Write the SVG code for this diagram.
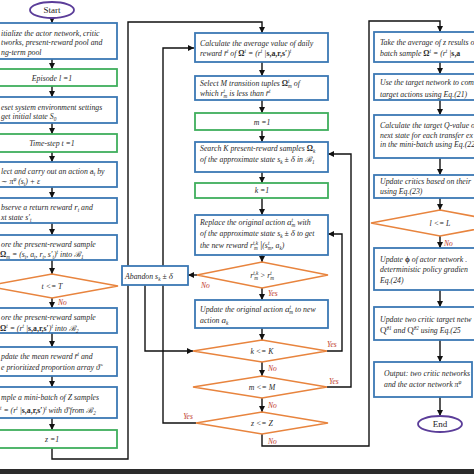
<svg xmlns="http://www.w3.org/2000/svg" width="474" height="474" viewBox="0 0 474 474">
<defs>
<style>
.t{font-family:"Liberation Serif","DejaVu Serif",serif;font-style:italic;font-size:7.8px;fill:#2a2a2a}
.s{font-size:5.2px}
.b{font-weight:bold;font-style:normal}
.u{font-style:normal}
.m{text-anchor:middle}
.lb{font-family:"Liberation Serif","DejaVu Serif",serif;font-style:italic;font-size:7.5px;fill:#c0392b}
.ov{font-family:"Liberation Serif","DejaVu Serif",serif;font-size:9px;fill:#222;text-anchor:middle}
.box{fill:#fff;stroke:#3b78b4;stroke-width:1.8}
.g{fill:#fff;stroke:#3fae5c;stroke-width:1.8}
.d{fill:#fff;stroke:#e8843e;stroke-width:1.6}
.o{fill:#fff;stroke:#5b3d99;stroke-width:1.8}
.c2{fill:none;stroke:#111;stroke-width:1.4;marker-end:url(#ah)}
</style>
<marker id="ah" markerWidth="6" markerHeight="6" refX="6" refY="3" orient="auto" markerUnits="userSpaceOnUse"><path d="M0,0 L6,3 L0,6 z" fill="#111"/></marker>
</defs>
<rect width="474" height="474" fill="#fff"/>
<g id="connectors">
<path class="c2" d="M52,18 V23"/>
<path class="c2" d="M52,59 V69"/>
<path class="c2" d="M52,86 V97"/>
<path class="c2" d="M52,123 V134"/>
<path class="c2" d="M52,152 V162"/>
<path class="c2" d="M52,187 V198"/>
<path class="c2" d="M52,223 V235"/>
<path class="c2" d="M52,260 V274"/>
<path class="c2" d="M52,298 V308"/>
<path class="c2" d="M52,333 V347"/>
<path class="c2" d="M52,376 V387"/>
<path class="c2" d="M52,418 V430"/>
<path class="c2" d="M52,448 V459 H128 V22 H262 V33"/>
<path class="c2" d="M262,62 V76"/>
<path class="c2" d="M262,100 V113"/>
<path class="c2" d="M262,130 V142"/>
<path class="c2" d="M262,172 V183"/>
<path class="c2" d="M262,198 V215"/>
<path class="c2" d="M262,255 V262"/>
<path class="c2" d="M197,275 H188"/>
<path class="c2" d="M262,288 V300"/>
<path class="c2" d="M262,328 V340"/>
<path class="c2" d="M145,285 V351 H193"/>
<path class="c2" d="M327,351 H342 V234 H328"/>
<path class="c2" d="M262,362 V376"/>
<path class="c2" d="M327,387 H351 V154 H328"/>
<path class="c2" d="M262,398 V412"/>
<path class="c2" d="M196,423 H163 V48 H194"/>
<path class="c2" d="M262,434 V446 H369 V21 H440 V32"/>
<path class="c2" d="M440,62 V74"/>
<path class="c2" d="M440,100 V115"/>
<path class="c2" d="M440,158 V175"/>
<path class="c2" d="M440,198 V210"/>
<path class="c2" d="M440,235 V248"/>
<path class="c2" d="M440,290 V307"/>
<path class="c2" d="M440,340 V362"/>
<path class="c2" d="M440,397 V416"/>
</g>
<g id="start"><ellipse class="o" cx="52" cy="10" rx="22" ry="8"/><text class="ov" x="52" y="13">Start</text></g>
<g id="init"><rect class="box" x="-14" y="23" width="131" height="36"/>
<text class="t" x="1" y="35.5">itialize the actor network, critic</text>
<text class="t" x="1" y="45">tworks, present-reward pool and</text>
<text class="t" x="1" y="54.5">ng-term pool</text></g>
<g id="episode"><rect class="g" x="-14" y="69" width="131" height="17"/><text class="t m" x="52" y="80.5">Episode l =1</text></g>
<g id="reset"><rect class="box" x="-14" y="97" width="131" height="26"/>
<text class="t" x="1" y="109.5">eset system environment settings</text>
<text class="t" x="1" y="119">get initial state S<tspan class="s" dy="2">0</tspan></text></g>
<g id="timestep"><rect class="g" x="-14" y="134" width="131" height="18"/><text class="t m" x="52" y="145.5">Time-step t =1</text></g>
<g id="select"><rect class="box" x="-14" y="162" width="131" height="25"/>
<text class="t" x="1" y="173.5">lect and carry out an action <tspan class="u" font-size="9">a</tspan><tspan class="s" dy="2">t</tspan><tspan dy="-2"> by</tspan></text>
<text class="t" x="1" y="183.5">∼ π<tspan class="s" dy="-3">φ</tspan><tspan dy="3"> (s</tspan><tspan class="s" dy="2">t</tspan><tspan dy="-2">) + ε</tspan></text></g>
<g id="observe"><rect class="box" x="-14" y="198" width="131" height="25"/>
<text class="t" x="1" y="210">bserve a return reward  <tspan font-size="9">r</tspan><tspan class="s" dy="2">t</tspan><tspan dy="-2">  and</tspan></text>
<text class="t" x="1" y="220">xt state s′<tspan class="s" dy="2">t</tspan></text></g>
<g id="store1"><rect class="box" x="-14" y="235" width="131" height="25"/>
<text class="t" x="1" y="247">ore the present-reward sample</text>
<text class="t" x="0" y="257"><tspan class="b">Ω</tspan><tspan class="s" dy="2">m</tspan><tspan dy="-2"> = (s</tspan><tspan class="s" dy="2">t</tspan><tspan dy="-2">, a</tspan><tspan class="s" dy="2">t</tspan><tspan dy="-2">, r</tspan><tspan class="s" dy="2">t</tspan><tspan dy="-2">, s′</tspan><tspan class="s" dy="2">t</tspan><tspan dy="-2">)</tspan><tspan class="s" dy="-3">t</tspan><tspan dy="3"> into ℬ</tspan><tspan class="s" dy="2">1</tspan></text></g>
<g id="tT"><polygon class="d" points="-14,286 52,274 118,286 52,298"/><text class="t m" x="52" y="289">t &lt;= T</text></g>
<g id="store2"><rect class="box" x="-14" y="308" width="131" height="25"/>
<text class="t" x="1" y="320">ore the present-reward sample</text>
<text class="t" x="0" y="330.5"><tspan class="b">Ω</tspan><tspan class="s" dy="-3">t</tspan><tspan dy="3"> = (r</tspan><tspan class="s" dy="-3">t</tspan><tspan dy="3"> |</tspan><tspan class="b">s,a,r,s′</tspan><tspan>)</tspan><tspan class="s" dy="-3">t</tspan><tspan dy="3"> into ℬ</tspan><tspan class="s" dy="2">2</tspan></text></g>
<g id="update-mean"><rect class="box" x="-14" y="347" width="131" height="29"/>
<text class="t" x="1" y="359">pdate the mean reward  r̄<tspan class="s" dy="-3">t</tspan><tspan dy="3"> and</tspan></text>
<text class="t" x="1" y="369.5">e prioritized proportion array  ϑ̃</text></g>
<g id="sample"><rect class="box" x="-14" y="387" width="131" height="31"/>
<text class="t" x="1" y="400">mple a mini-batch of Z samples</text>
<text class="t" x="0" y="412.5"><tspan class="s" dy="-3">t</tspan><tspan dy="3"> = (r</tspan><tspan class="s" dy="-3">t</tspan><tspan dy="3"> |</tspan><tspan class="b">s,a,r,s′</tspan><tspan>)</tspan><tspan class="s" dy="-3">t</tspan><tspan dy="3"> with ϑ̃  from ℬ</tspan><tspan class="s" dy="2">2</tspan></text></g>
<g id="z1"><rect class="g" x="-14" y="430" width="131" height="18"/><text class="t m" x="52" y="441.5">z =1</text></g>
<g id="calc-avg"><rect class="box" x="195" y="33" width="133" height="29"/>
<text class="t" x="200" y="45.5">Calculate the average value of daily</text>
<text class="t" x="200" y="56">reward  r̄<tspan class="s" dy="-3">t</tspan><tspan dy="3"> of  </tspan><tspan class="b">Ω</tspan><tspan class="s" dy="-3">t</tspan><tspan dy="3"> = (r</tspan><tspan class="s" dy="-3">t</tspan><tspan dy="3"> |</tspan><tspan class="b">s,a,r,s′</tspan><tspan>)</tspan><tspan class="s" dy="-3">t</tspan></text></g>
<g id="select-m"><rect class="box" x="195" y="76" width="133" height="24"/>
<text class="t" x="200" y="86">Select M transition tuples  <tspan class="b">Ω</tspan><tspan class="s" dy="-3">t</tspan><tspan class="s" dx="-1.5" dy="5">m</tspan><tspan dy="-2">  of</tspan></text>
<text class="t" x="200" y="95.5">which  r<tspan class="s" dy="-3">t</tspan><tspan class="s" dx="-1.5" dy="5">m</tspan><tspan dy="-2">  is less than  r̄</tspan><tspan class="s" dy="-3">t</tspan></text></g>
<g id="m1"><rect class="g" x="195" y="113" width="133" height="17"/><text class="t m" x="262" y="124.5">m =1</text></g>
<g id="search-k"><rect class="box" x="195" y="142" width="133" height="30"/>
<text class="t" x="200" y="151">Search K present-reward samples <tspan class="b">Ω</tspan><tspan class="s" dy="2">k</tspan></text>
<text class="t" x="200" y="162">of the approximate state  s<tspan class="s" dy="2">k</tspan><tspan dy="-2" class="u"> ± </tspan><tspan font-size="9">δ</tspan><tspan>  in  ℬ</tspan><tspan class="s" dy="2">1</tspan></text></g>
<g id="k1"><rect class="g" x="195" y="183" width="133" height="15"/><text class="t m" x="262" y="193">k =1</text></g>
<g id="replace"><rect class="box" x="195" y="215" width="133" height="40"/>
<text class="t" x="200" y="224.5">Replace the original action  <tspan font-size="9">a</tspan><tspan class="s" dy="-3">t</tspan><tspan class="s" dx="-1.5" dy="5">m</tspan><tspan dy="-2">  with</tspan></text>
<text class="t" x="200" y="236">of the approximate state  s<tspan class="s" dy="2">k</tspan><tspan dy="-2" class="u"> ± </tspan><tspan font-size="9">δ</tspan><tspan> to get</tspan></text>
<text class="t" x="200" y="248">the new reward  r<tspan class="s" dy="-3">t,k</tspan><tspan class="s" dx="-4" dy="5">m</tspan><tspan dy="-2" class="u" font-size="10"> |</tspan><tspan>(s</tspan><tspan class="s" dy="-3">t</tspan><tspan class="s" dx="-1.5" dy="5">m</tspan><tspan dy="-2">, a</tspan><tspan class="s" dy="2">k</tspan><tspan dy="-2">)</tspan></text></g>
<g id="reward-cmp"><polygon class="d" points="197,275 262,262 328,275 262,288"/>
<text class="t m" x="262" y="278">r<tspan class="s" dy="-3">t,k</tspan><tspan class="s" dx="-4" dy="5">m</tspan><tspan dy="-2"> &gt; r</tspan><tspan class="s" dy="-3">t</tspan><tspan class="s" dx="-1.5" dy="5">m</tspan></text></g>
<g id="abandon"><rect class="box" x="122" y="266" width="66" height="19"/>
<text class="t" x="125" y="279">Abandon  s<tspan class="s" dy="2">k</tspan><tspan dy="-2" class="u"> ± </tspan><tspan font-size="9">δ</tspan></text></g>
<g id="update-action"><rect class="box" x="195" y="300" width="133" height="28"/>
<text class="t" x="200" y="312">Update the original action  <tspan font-size="9">a</tspan><tspan class="s" dy="-3">t</tspan><tspan class="s" dx="-1.5" dy="5">m</tspan><tspan dy="-2"> to new</tspan></text>
<text class="t" x="200" y="323">action  <tspan font-size="9">a</tspan><tspan class="s" dy="2">k</tspan></text></g>
<g id="kK"><polygon class="d" points="193,351 262,340 327,351 262,362"/><text class="t m" x="262" y="354">k &lt;= K</text></g>
<g id="mM"><polygon class="d" points="193,387 262,376 327,387 262,398"/><text class="t m" x="262" y="390">m &lt;= M</text></g>
<g id="zZ"><polygon class="d" points="196,423 262,412 328,423 262,434"/><text class="t m" x="262" y="426">z &lt;= Z</text></g>
<g id="labels">
<text class="lb" x="58" y="305">No</text>
<text class="lb" x="201" y="288">No</text>
<text class="lb" x="268" y="296">Yes</text>
<text class="lb" x="327" y="347">Yes</text>
<text class="lb" x="268" y="371">No</text>
<text class="lb" x="329" y="384">Yes</text>
<text class="lb" x="268" y="408">No</text>
<text class="lb" x="188" y="419" text-anchor="middle">Yes</text>
<text class="lb" x="268" y="444">No</text>
<text class="lb" x="444" y="246">No</text>
</g>
<g id="take-avg"><rect class="box" x="374" y="32" width="140" height="30"/>
<text class="t" x="380" y="45">Take the average of z results o</text>
<text class="t" x="380" y="56">batch sample  <tspan class="b">Ω</tspan><tspan class="s" dy="-3">t</tspan><tspan dy="3"> = (r</tspan><tspan class="s" dy="-3">t</tspan><tspan dy="3"> |</tspan><tspan class="b">s,a</tspan></text></g>
<g id="target-net"><rect class="box" x="374" y="74" width="140" height="26"/>
<text class="t" x="380" y="85">Use the target network to com</text>
<text class="t" x="380" y="96.5">target actions using Eq.(21)</text></g>
<g id="target-q"><rect class="box" x="374" y="115" width="140" height="43"/>
<text class="t" x="380" y="127.5">Calculate the target Q-value o</text>
<text class="t" x="380" y="137.5">next state for each transfer ex</text>
<text class="t" x="380" y="147">in the mini-batch using Eq.(22</text></g>
<g id="update-critics"><rect class="box" x="374" y="175" width="140" height="23"/>
<text class="t" x="380" y="184">Update critics based on their</text>
<text class="t" x="380" y="194">using Eq.(23)</text></g>
<g id="lL"><polygon class="d" points="371,223 440,210 509,223 440,236"/><text class="t m" x="440" y="226">l &lt;= L</text></g>
<g id="update-actor"><rect class="box" x="374" y="248" width="140" height="42"/>
<text class="t" x="380" y="261.5">Update <tspan class="b">ϕ</tspan> of actor network .</text>
<text class="t" x="380" y="272">deterministic policy gradien</text>
<text class="t" x="380" y="282.5">Eq.(24)</text></g>
<g id="update-target"><rect class="box" x="374" y="307" width="140" height="33"/>
<text class="t" x="380" y="321.5">Update two critic target netw</text>
<text class="t" x="380" y="332.5"><tspan class="u" font-size="9">Q</tspan><tspan class="s" dy="-3">θ1</tspan><tspan dy="3"> and  </tspan><tspan class="u" font-size="9">Q</tspan><tspan class="s" dy="-3">θ2</tspan><tspan dy="3">  using Eq.(25</tspan></text></g>
<g id="output"><rect class="box" x="374" y="362" width="98" height="35"/>
<text class="t" x="384" y="376">Output: two critic networks</text>
<text class="t" x="384" y="386.5">and the actor network  π<tspan class="s" dy="-3">φ</tspan></text></g>
<g id="end"><ellipse class="o" cx="440" cy="424" rx="22" ry="8"/><text class="ov" x="440" y="427">End</text></g>
<rect x="0" y="469" width="474" height="5" fill="#2b2b2b"/>
</svg>
